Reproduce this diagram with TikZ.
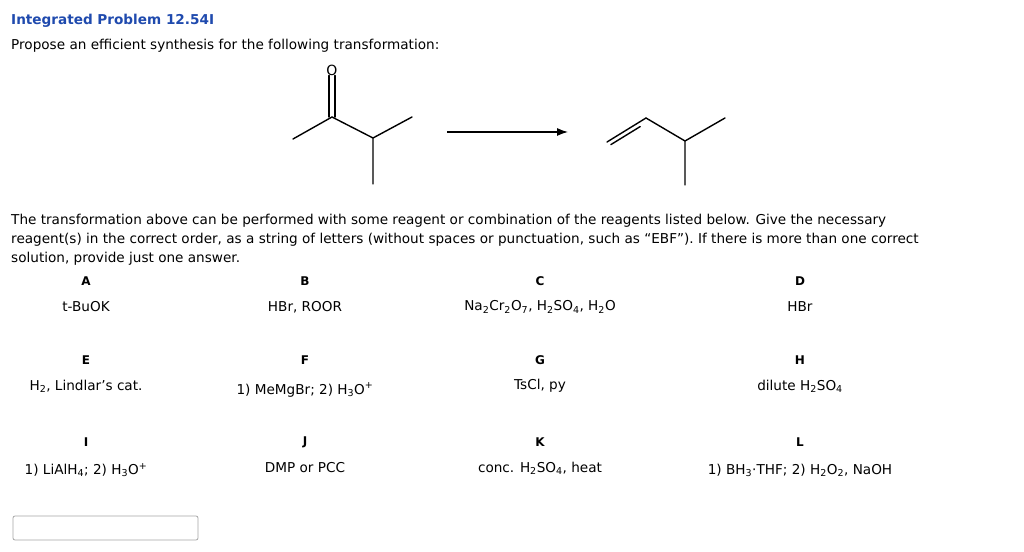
\documentclass[tikz,border=0pt]{standalone}
\usepackage{fontspec}
\setmainfont{DejaVu Sans}
\usetikzlibrary{arrows.meta,calc}
\definecolor{ttl}{HTML}{1F4AAE}
\newcommand{\sbb}[1]{\textsubscript{#1}}
\newcommand{\spp}[1]{\textsuperscript{#1}}
\begin{document}
\begin{tikzpicture}[x=1pt,y=1pt,
  txt/.style={anchor=west,inner sep=0pt,font=\fontsize{13.6}{16}\selectfont},
  lbl/.style={inner sep=0pt,font=\fontsize{12}{14}\selectfont\bfseries},
  rg/.style={inner sep=0pt,font=\fontsize{13.6}{16}\selectfont},
  bond/.style={line width=1.4pt,line cap=round}]
\useasboundingbox (0,0) rectangle (1024,551);
\fill[white] (0,0) rectangle (1024,551);
\node[txt,text=ttl,font=\fontsize{13.6}{16}\selectfont\bfseries] (title) at (11,530) {Integrated Problem 12.54I};
\node[txt] (q) at (11,505) {Propose an efficient synthesis for the following transformation:};
% ketone
\coordinate (c1) at (293,412);
\coordinate (c2) at (332,434);
\node[inner sep=0pt,font=\fontsize{14}{16}\selectfont] (o) at (332,481) {O};
\coordinate (c3) at (373,413);
\coordinate (c4) at (412,434);
\coordinate (c5) at (373,367);
\draw[bond] (c1)--(c2)--(c3)--(c4) (c3)--(c5);
\draw[bond] ([xshift=-3pt]c2) -- ([xshift=-3pt]o.south);
\draw[bond] ([xshift=3pt]c2) -- ([xshift=3pt]o.south);
% arrow
\coordinate (a1) at (447,419);
\coordinate (a2) at (568,419);
\draw[line width=1.2pt,-{Latex[length=11pt,width=8pt]}] (a1)--(a2);
% alkene
\coordinate (p1) at (607,409);
\coordinate (p2) at (646,433);
\coordinate (p3) at (685,410);
\coordinate (p4) at (725,433);
\coordinate (p5) at (685,366);
\draw[bond] (p1)--(p2)--(p3)--(p4) (p3)--(p5);
\draw[bond] ($(p1)!0.1!(p2)+(0,-5)$) -- ($(p1)!0.85!(p2)+(0,-5)$);
\node[txt] (t1) at (11,330) {The transformation above can be performed with some reagent or combination of the reagents listed below. Give the necessary};
\node[txt] (t2) at (11,311) {reagent(s) in the correct order, as a string of letters (without spaces or punctuation, such as “EBF”). If there is more than one correct};
\node[txt] (t3) at (11,292) {solution, provide just one answer.};
% grid
\node[lbl] (A) at (86,270) {A};  \node[rg] (rA) at (86,244) {t-BuOK};
\node[lbl] (B) at (305,270) {B}; \node[rg] (rB) at (305,244) {HBr, ROOR};
\node[lbl] (C) at (540,270) {C}; \node[rg] (rC) at (540,244) {Na\sbb{2}Cr\sbb{2}O\sbb{7}, H\sbb{2}SO\sbb{4}, H\sbb{2}O};
\node[lbl] (D) at (800,270) {D}; \node[rg] (rD) at (800,244) {HBr};
\node[lbl] (E) at (86,191) {E};  \node[rg] (rE) at (86,165) {H\sbb{2}, Lindlar's cat.};
\node[lbl] (F) at (305,191) {F}; \node[rg] (rF) at (305,161) {1) MeMgBr; 2) H\sbb{3}O\spp{+}};
\node[lbl] (G) at (540,191) {G}; \node[rg] (rG) at (540,165) {TsCl, py};
\node[lbl] (H) at (800,191) {H}; \node[rg] (rH) at (800,165) {dilute H\sbb{2}SO\sbb{4}};
\node[lbl] (I) at (86,109) {I};  \node[rg] (rI) at (86,81) {1) LiAlH\sbb{4}; 2) H\sbb{3}O\spp{+}};
\node[lbl] (J) at (305,109) {J}; \node[rg] (rJ) at (305,83) {DMP or PCC};
\node[lbl] (K) at (540,109) {K}; \node[rg] (rK) at (540,83) {conc. H\sbb{2}SO\sbb{4}, heat};
\node[lbl] (L) at (800,109) {L}; \node[rg] (rL) at (800,81) {1) BH\sbb{3}·THF; 2) H\sbb{2}O\sbb{2}, NaOH};
\draw[gray!70,rounded corners=2pt,line width=0.8pt] (13,11) rectangle (198,35);
\end{tikzpicture}
\end{document}
